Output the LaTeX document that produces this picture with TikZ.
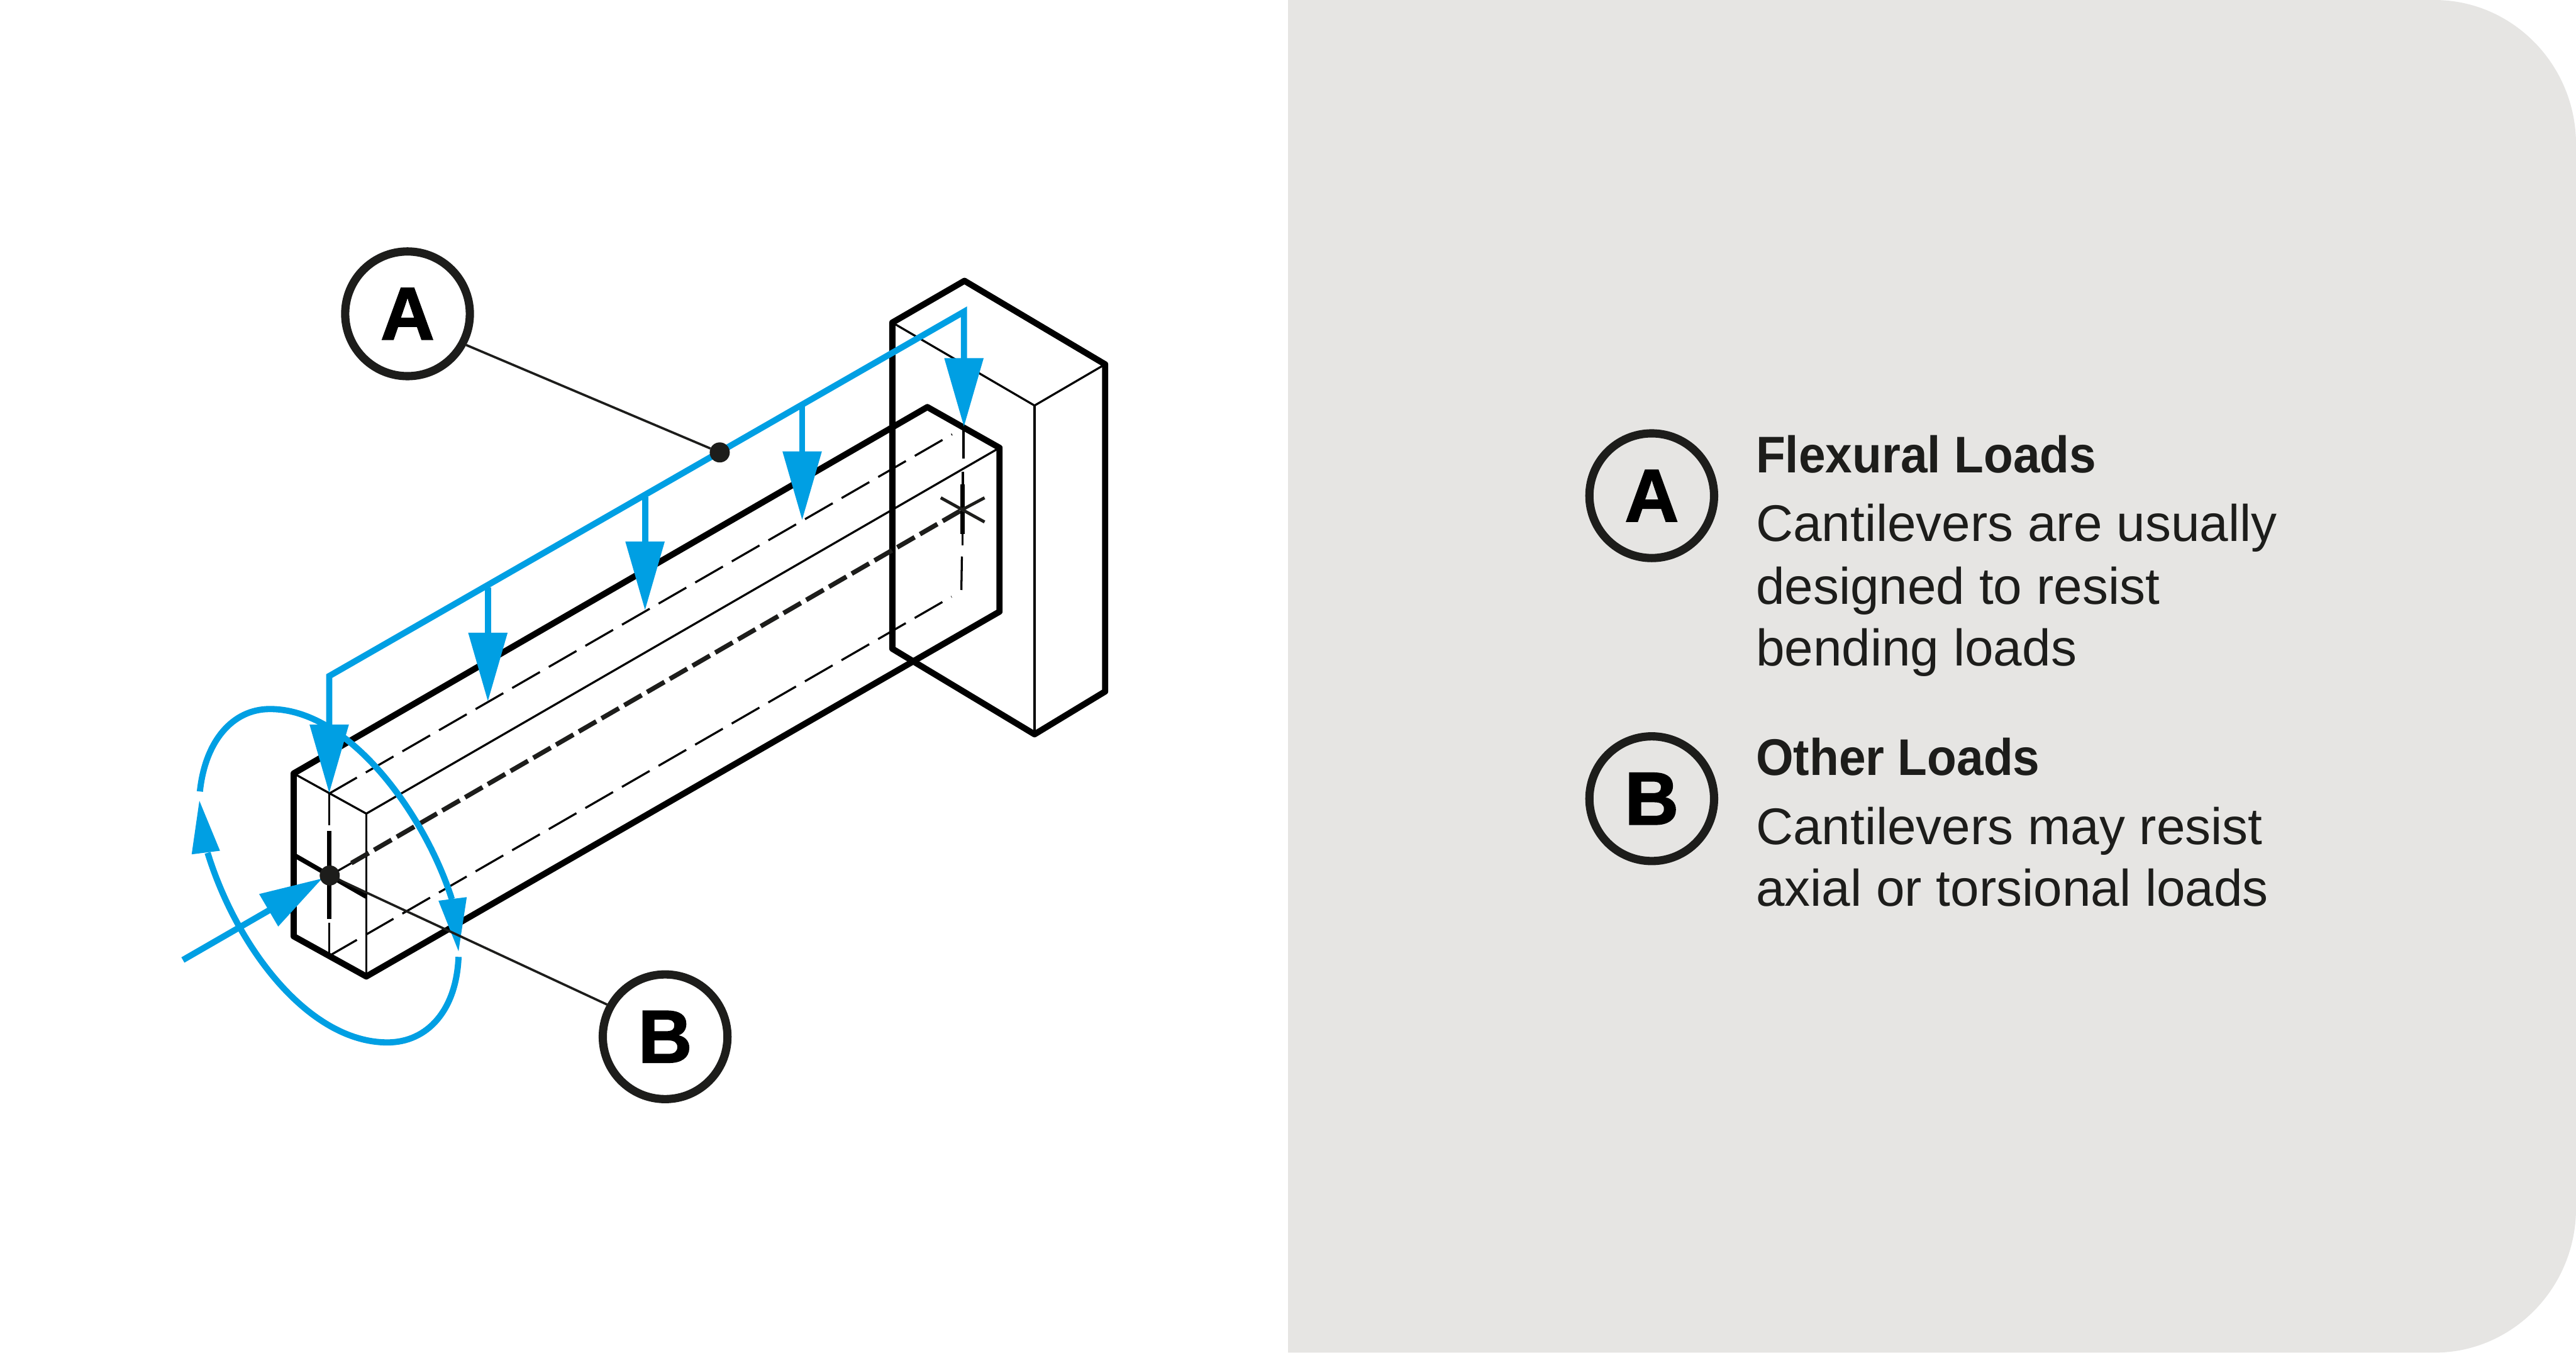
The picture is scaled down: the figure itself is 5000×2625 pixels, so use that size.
\documentclass[tikz,border=0pt]{standalone}
\usepackage{fontspec}
\setmainfont{Liberation Sans}
\newfontface\headface{Liberation Sans Bold}[FakeStretch=0.936]
\newfontface\letterface{Liberation Sans Bold}[FakeBold=1.6]
\usetikzlibrary{arrows.meta}
\definecolor{loadblue}{HTML}{009FE3}
\definecolor{inkdark}{HTML}{1D1D1B}
\definecolor{panelgrey}{HTML}{E6E5E3}
\tikzset{
  heavy/.style={draw=black,line width=12pt,line join=round,line cap=round},
  fineline/.style={draw=black,line width=4pt},
  hiddenline/.style={draw=black,line width=4pt,dash pattern=on 62pt off 20pt},
  axisline/.style={draw=inkdark,line width=9pt,dash pattern=on 39pt off 12pt},
  crossline/.style={draw=black,line width=9pt},
  starline/.style={draw=inkdark,line width=6pt},
  loadline/.style={draw=loadblue,line width=12pt,line join=miter},
  loadhead/.style={-{Triangle[length=133pt,width=74pt]},draw=loadblue,fill=loadblue,line width=9pt},
  loadtip/.style={fill=loadblue,draw=none},
  leaderline/.style={draw=inkdark,line width=4.5pt},
  bubble/.style={circle,draw=inkdark,line width=16pt,fill=white,minimum size=242pt,inner sep=0pt,text=black,font=\fontsize{145}{145}\letterface},
  bubblep/.style={bubble,fill=none},
  headtext/.style={anchor=base west,inner sep=0pt,text=inkdark,font=\fontsize{100}{120}\headface},
  bodytext/.style={anchor=base west,inner sep=0pt,text=inkdark,font=\fontsize{100}{120}\selectfont},
  pointdot/.style={circle,fill=inkdark,inner sep=0pt,minimum size=39pt}
}
\begin{document}
\begin{tikzpicture}[x=1pt,y=-1pt]
\useasboundingbox (0,0) rectangle (5000,2625);
\fill[white] (0,0) rectangle (5000,2625);
\fill[panelgrey] (2500,0) -- (4725,0) .. controls (4877,0) and (5000,126) .. (5000,280) -- (5000,2345) .. controls (5000,2499) and (4877,2625) .. (4725,2625) -- (2500,2625) -- cycle;

% wall
\draw[heavy] (1732,626) -- (1872,545) -- (2145,707) -- (2145,1342) -- (2008,1425) -- (1732,1259) -- cycle;
\draw[fineline] (1732,626) -- (2008,787) -- (2145,707);
\draw[fineline] (2008,787) -- (2008,1425);

% beam
\draw[heavy] (711,1895) -- (570,1817) -- (570,1501) -- (1800,790) -- (1940,869) -- (1940,1187) -- cycle;
\draw[fineline] (570,1501) -- (711,1579) -- (1940,869);
\draw[fineline] (711,1579) -- (711,1895);
\draw[hiddenline] (639,1540) -- (1848,843);
\draw[hiddenline] (639,1855) -- (1847,1158);

% near section lines
\draw[fineline] (639,1540) -- (639,1602);
\draw[crossline] (639,1613) -- (639,1784);
\draw[fineline] (639,1791) -- (639,1851);
\draw[crossline] (570,1659) -- (711,1740);
\draw[fineline] (640,1699) -- (682,1675);
\draw[axisline] (682,1675) -- (1868,989);

% far section lines
\draw[fineline] (1870,828) -- (1870,890);
\draw[fineline] (1869,915) -- (1869,940);
\draw[crossline] (1868,940) -- (1868,1036);
\draw[fineline] (1868,1036) -- (1868,1058);
\draw[fineline] (1867,1080) -- (1866,1145);
\draw[starline] (1826,966) -- (1911,1013);
\draw[starline] (1911,966) -- (1868,989);

% flexural load
\draw[loadline] (639,1420) -- (639,1312) -- (1871,605) -- (1871,710);
\draw[loadhead] (639,1400) -- (639,1539);
\draw[loadhead] (1871,690) -- (1871,828);
\draw[loadline] (947,1140) -- (947,1240);
\draw[loadhead] (947,1225) -- (947,1361);
\draw[loadline] (1252,964) -- (1252,1060);
\draw[loadhead] (1252,1046) -- (1252,1184);
\draw[loadline] (1557,788) -- (1557,885);
\draw[loadhead] (1557,871) -- (1557,1009);

% torsion
\draw[loadline] (388,1536) .. controls (398,1440) and (450,1376) .. (524,1376) .. controls (680,1376) and (826,1584) .. (877,1745);
\fill[loadtip] (851,1748) -- (906,1741) -- (890,1846) -- cycle;
\draw[loadline] (890,1857) .. controls (886,1960) and (830,2023) .. (752,2023) .. controls (600,2023) and (460,1840) .. (403,1655);
\fill[loadtip] (372,1658) -- (427,1651) -- (387,1554) -- cycle;

% axial
\draw[loadline] (355,1863) -- (525,1765);
\fill[loadtip] (503,1735) -- (540,1798) -- (625,1705) -- cycle;

% callouts
\node[pointdot] (dotA) at (1397,878) {};
\node[pointdot] (dotB) at (640,1699) {};
\node[bubble] (bubA) at (791,609) {A};
\node[bubble] (bubB) at (1291,2012) {B};
\draw[leaderline] (bubA.-28) -- (dotA);
\draw[leaderline] (bubB.151) -- (dotB);

% legend
\node[bubblep] (legA) at (3206,962) {A};
\node[bubblep] (legB) at (3206,1550) {B};
\node[headtext] (h1) at (3408,917) {Flexural Loads};
\node[bodytext] (t1) at (3408,1051) {Cantilevers are usually};
\node[bodytext] (t2) at (3408,1172) {designed to resist};
\node[bodytext] (t3) at (3408,1292) {bending loads};
\node[headtext] (h2) at (3408,1505) {Other Loads};
\node[bodytext] (t4) at (3408,1639) {Cantilevers may resist};
\node[bodytext] (t5) at (3408,1759) {axial or torsional loads};
\end{tikzpicture}
\end{document}
